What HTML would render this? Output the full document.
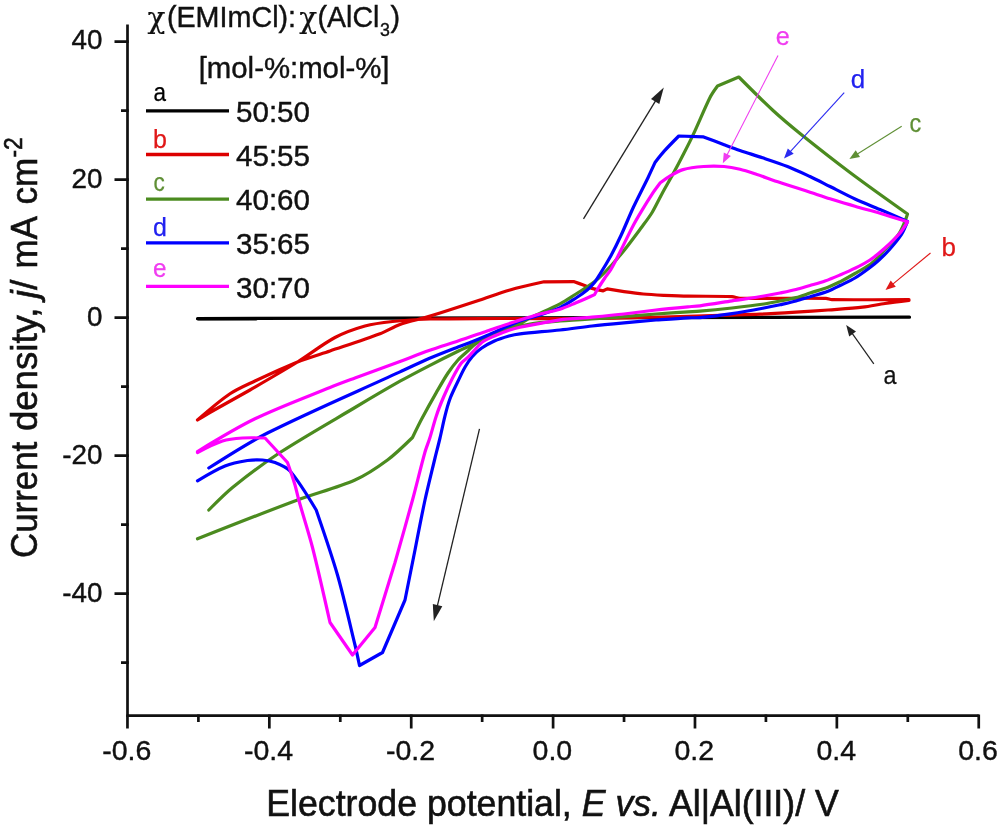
<!DOCTYPE html>
<html lang="en"><head><meta charset="utf-8">
<title>Cyclic voltammograms of EMImCl:AlCl3 melts</title>
<style>
html,body{margin:0;padding:0;background:#fff;}
body{width:1000px;height:826px;overflow:hidden;}
svg{display:block;filter:blur(0.55px);}
text{font-family:"Liberation Sans",sans-serif;fill:#111;stroke:#111;stroke-width:0.4px;}
#xtitle,#ytitle text{stroke-width:0.6px;}
.sym{font-family:"DejaVu Serif","Liberation Serif",serif;stroke-width:0.2px;}
.it{font-style:italic;}
.crv{fill:none;stroke-width:3.2;stroke-linejoin:round;stroke-linecap:round;}
.ax{stroke:#111;stroke-width:2.7;fill:none;stroke-linecap:butt;}
.ar{stroke-width:1.2;fill:none;}
</style></head><body>
<svg width="1000" height="826" viewBox="0 0 1000 826">
<rect x="0" y="0" width="1000" height="826" fill="#ffffff"/>
<g id="curves">
<polyline class="crv" stroke="#000000" stroke-width="4.1" points="197.5,318.7 255.0,318.4 909.5,317.2"/>
<polyline class="crv" stroke="#000000" stroke-width="5.8" points="198.5,319.0 256.0,319.0"/>
<path class="crv" stroke="#dc0000" stroke-width="2.6" d="M909.0 299.6 C909.0 299.6 855.1 299.9 832.0 299.6 C830.2 299.6 827.8 298.4 826.0 298.4 C811.5 298.1 792.1 298.3 777.5 298.3 C766.3 298.3 751.2 298.7 740.0 298.3 C737.5 298.2 734.5 296.7 732.0 296.6 C718.8 296.0 701.2 296.4 688.0 296.1 C680.8 296.0 671.2 295.6 664.0 295.3 C657.8 295.0 649.4 294.6 643.2 294.0 C637.4 293.5 624.0 291.6 624.0 291.6 L607.2 288.9 L603.2 290.8 C603.2 290.8 595.3 289.4 592.0 288.4 C589.5 287.7 586.4 286.1 584.0 285.2 C580.9 284.1 573.6 281.6 573.6 281.6 L544.0 281.8 C544.0 281.8 520.1 287.1 510.0 290.0 C500.9 292.6 489.0 297.0 480.0 300.0 C468.0 303.9 452.0 309.2 440.0 313.0 C435.5 314.4 429.5 316.2 425.0 317.5 C417.5 319.7 407.3 321.9 400.0 324.5 C393.8 326.7 386.2 331.4 380.0 333.8 C365.2 339.4 345.0 345.9 330.0 351.0 C320.3 354.3 307.1 358.2 297.5 362.0 C284.5 367.2 267.6 375.1 255.0 381.0 C247.4 384.6 237.0 389.0 230.0 393.8 C219.6 400.8 197.5 420.0 197.5 420.0 C197.5 420.0 207.9 413.6 212.5 411.0 C223.7 404.6 238.8 396.4 250.0 390.0 C264.3 381.7 283.4 370.7 297.5 362.0 C308.9 354.9 323.1 343.8 335.0 337.5 C343.5 333.0 355.7 328.6 365.0 326.0 C373.1 323.8 384.2 322.4 392.5 321.5 C403.7 320.3 418.7 319.3 430.0 319.0 C451.0 318.4 479.0 318.6 500.0 318.5 C524.0 318.4 556.0 318.7 580.0 318.5 C598.0 318.4 622.0 317.8 640.0 317.5 C654.4 317.2 673.6 316.8 688.0 316.4 C697.6 316.1 710.4 315.6 720.0 315.3 C732.0 314.9 748.0 314.7 760.0 314.2 C770.8 313.8 785.2 312.9 796.0 312.2 C805.6 311.6 818.4 310.7 828.0 310.0 C838.4 309.2 852.2 308.4 862.5 307.2 C869.3 306.5 878.2 304.5 885.0 303.5 C892.2 302.4 909.0 300.4 909.0 300.4"/>
<path class="crv" stroke="#4b8b1f" d="M208.8 510.0 C208.8 510.0 224.9 493.7 232.5 487.5 C246.3 476.4 265.2 462.2 280.0 452.5 C302.0 438.2 332.4 420.9 355.0 407.5 C368.4 399.5 386.4 388.9 400.0 381.2 C408.6 376.4 420.3 370.3 429.0 365.8 C437.7 361.3 449.2 355.5 458.0 351.2 C463.2 348.7 470.3 345.7 475.5 343.2 C479.0 341.5 483.6 339.0 487.2 337.4 C491.5 335.5 497.4 333.2 501.7 331.4 C507.2 329.1 514.6 326.1 520.0 323.5 C523.1 322.0 526.9 319.5 530.0 318.0 C538.9 313.6 551.2 308.4 560.0 303.8 C565.0 301.2 571.2 297.0 576.0 294.0 C580.8 290.9 587.4 287.0 592.0 283.6 C595.6 281.0 600.1 277.2 603.2 274.0 C608.9 268.3 616.1 260.2 621.2 254.0 C627.7 246.1 635.7 235.2 641.8 227.0 C645.0 222.7 649.3 217.1 652.1 212.5 C655.5 206.8 659.2 198.8 662.4 193.0 C665.4 187.4 669.7 180.1 672.7 174.5 C675.9 168.7 680.0 160.9 683.0 155.0 C686.2 148.9 690.4 140.7 693.3 134.4 C698.5 123.4 704.6 108.4 710.0 97.5 C711.8 93.8 717.5 86.0 717.5 86.0 L738.8 77.0 C738.8 77.0 762.1 100.4 772.5 110.0 C780.5 117.4 791.6 126.7 800.0 133.5 C814.8 145.4 834.8 161.1 850.0 172.5 C867.0 185.3 907.5 214.0 907.5 214.0 C907.5 214.0 905.6 220.0 904.5 222.5 C902.9 226.2 900.9 231.2 898.5 234.5 C895.0 239.4 889.1 245.0 885.0 249.5 C882.8 252.0 879.9 255.4 877.5 257.8 C875.4 259.9 872.5 262.8 870.0 264.5 C865.7 267.5 859.5 270.9 855.0 273.5 C850.5 276.1 844.6 279.4 840.0 281.8 C836.5 283.5 831.7 285.8 828.0 287.2 C822.7 289.2 815.4 291.2 810.0 293.0 C805.8 294.4 800.3 296.5 796.0 297.6 C791.3 298.9 784.8 300.0 780.0 301.0 C775.2 302.0 768.8 303.3 764.0 304.0 C754.4 305.4 741.6 306.9 732.0 308.0 C722.4 309.1 709.6 310.4 700.0 311.2 C696.4 311.5 691.6 311.6 688.0 311.8 C678.4 312.4 665.6 313.3 656.0 314.0 C644.0 314.9 628.0 316.4 616.0 317.3 C599.2 318.5 576.8 319.7 560.0 321.0 C551.0 321.7 538.9 322.4 530.0 324.0 C521.8 325.4 511.0 328.5 503.0 331.0 C498.1 332.6 491.8 335.4 487.2 337.6 C483.6 339.3 478.8 341.7 475.5 344.0 C473.1 345.6 470.4 348.5 468.3 350.5 C465.2 353.3 460.8 356.9 458.0 360.0 C454.7 363.7 450.7 368.9 448.0 373.0 C444.2 378.7 439.7 386.7 436.3 392.6 C431.8 400.4 426.0 410.9 421.8 418.8 C418.9 424.3 412.5 437.5 412.5 437.5 C412.5 437.5 395.6 454.0 387.5 460.0 C378.3 466.8 365.5 475.4 355.0 480.0 C338.3 487.4 314.6 493.6 297.5 500.0 C267.4 511.2 197.5 538.8 197.5 538.8"/>
<path class="crv" stroke="#0000ff" d="M208.8 468.0 C208.8 468.0 249.2 442.2 267.5 433.0 C306.6 413.3 360.3 390.2 400.0 371.9 C408.7 367.9 420.2 362.3 429.0 358.5 C437.6 354.8 449.3 350.3 458.0 346.9 C462.4 345.2 468.3 343.2 472.6 341.5 C477.0 339.8 482.7 337.4 487.0 335.5 C496.9 331.2 509.9 324.9 520.0 321.0 C525.8 318.7 534.1 317.0 540.0 315.0 C546.1 313.0 554.2 310.3 560.0 307.6 C565.1 305.2 571.3 301.0 576.0 298.0 C579.5 295.8 584.0 292.6 587.2 290.0 C589.3 288.3 591.9 285.7 593.6 283.6 C595.8 280.9 598.2 276.9 600.0 274.0 C603.4 268.6 607.8 261.3 610.9 255.7 C614.2 249.6 618.3 241.3 621.2 235.0 C625.1 226.7 629.6 215.3 633.5 207.0 C637.7 198.1 643.7 186.5 648.0 177.7 C650.2 173.1 655.2 162.2 655.2 162.2 C655.2 162.2 661.5 154.1 664.4 150.9 C668.6 146.3 678.8 136.0 678.8 136.0 L703.6 136.9 C703.6 136.9 717.9 142.4 724.1 144.7 C728.9 146.5 735.2 148.9 740.0 150.5 C746.7 152.8 755.8 155.5 762.5 157.8 C770.0 160.3 780.1 163.6 787.5 166.5 C794.4 169.2 803.3 173.4 810.0 176.5 C816.1 179.4 824.0 183.5 830.0 186.5 C837.5 190.2 847.4 195.5 855.0 199.0 C862.4 202.4 872.5 206.3 880.0 209.5 C888.3 213.0 907.5 221.5 907.5 221.5 C907.5 221.5 903.8 230.9 901.5 234.5 C898.4 239.3 893.3 245.2 889.5 249.5 C886.6 252.8 882.3 257.0 879.0 260.0 C876.4 262.4 872.8 265.4 870.0 267.5 C865.6 270.8 859.7 275.2 855.0 278.0 C850.7 280.6 844.5 283.3 840.0 285.5 C836.4 287.3 831.7 289.8 828.0 291.2 C822.7 293.2 815.4 295.1 810.0 296.8 C805.8 298.0 800.2 299.9 796.0 301.0 C791.2 302.3 784.8 303.7 780.0 304.8 C775.2 305.8 768.8 307.1 764.0 308.0 C754.4 309.8 741.6 312.2 732.0 313.6 C722.4 315.0 709.6 316.7 700.0 317.6 C696.4 317.9 691.6 317.6 688.0 317.8 C678.4 318.3 665.6 319.3 656.0 320.0 C646.4 320.8 633.6 321.9 624.0 322.8 C614.4 323.7 601.6 324.9 592.0 326.0 C582.4 327.1 569.6 329.0 560.0 330.0 C548.0 331.3 532.0 332.4 520.0 333.8 C516.7 334.2 512.2 335.1 509.0 336.0 C504.5 337.3 498.6 339.1 494.4 341.0 C490.3 342.8 485.1 345.7 481.4 348.3 C478.5 350.3 475.0 353.6 472.6 356.3 C470.1 359.1 467.3 363.3 465.4 366.5 C462.9 370.7 460.2 376.6 458.1 381.0 C455.6 386.2 452.1 393.1 450.1 398.5 C448.2 403.6 446.3 410.6 445.0 415.9 C443.3 422.5 441.6 431.4 440.0 438.0 C438.6 444.0 436.5 452.0 435.0 458.0 C432.0 470.6 427.8 487.3 425.0 500.0 C421.8 514.9 415.0 550.0 415.0 550.0 L405.0 600.0 L382.5 652.5 L359.5 665.5 C359.5 665.5 356.5 651.1 355.0 645.0 C349.9 624.0 343.5 595.8 337.5 575.0 C331.8 555.3 316.2 510.0 316.2 510.0 C316.2 510.0 299.2 481.6 290.0 471.0 C286.6 467.1 279.8 464.4 275.0 462.5 C271.4 461.1 266.3 460.3 262.5 460.0 C258.0 459.7 251.9 459.8 247.5 460.5 C240.6 461.6 231.4 463.4 225.0 466.0 C216.3 469.5 197.5 480.8 197.5 480.8"/>
<path class="crv" stroke="#ff00ff" d="M197.5 451.5 C197.5 451.5 237.1 427.4 255.0 418.8 C276.9 408.1 307.4 396.7 330.0 387.5 C337.4 384.5 347.5 380.8 355.0 378.0 C368.5 373.0 386.5 366.4 400.0 361.4 C408.7 358.2 420.2 353.6 429.0 350.5 C437.6 347.5 449.3 343.9 458.0 341.0 C466.8 338.1 478.4 334.0 487.2 331.0 C497.0 327.7 510.1 323.2 520.0 320.0 C526.0 318.1 534.0 315.6 540.0 314.0 C546.0 312.4 554.1 311.0 560.0 309.2 C564.9 307.7 571.2 304.8 576.0 302.8 C579.4 301.4 583.9 299.5 587.2 298.0 C589.4 297.0 594.6 294.6 594.6 294.6 C594.6 294.6 596.6 290.8 597.6 289.2 C599.7 285.8 602.6 281.3 604.8 278.0 C606.6 275.4 609.3 272.2 610.9 269.5 C614.3 263.7 618.2 255.7 621.2 249.7 C624.9 242.3 629.6 232.3 633.5 225.0 C635.8 220.6 639.2 214.9 641.8 210.6 C644.8 205.6 648.9 199.0 652.1 194.1 C654.4 190.6 660.3 182.8 660.3 182.8 C660.3 182.8 667.3 177.5 670.6 175.6 C674.2 173.5 679.0 170.7 683.0 169.6 C689.0 167.9 697.4 167.0 703.6 166.5 C709.7 166.0 718.0 166.0 724.1 166.5 C728.9 166.9 735.3 168.1 740.0 169.2 C744.6 170.3 750.5 172.3 755.0 173.8 C762.5 176.3 772.5 180.0 780.0 182.5 C787.5 185.0 797.5 188.1 805.0 190.5 C812.5 192.9 822.5 196.4 830.0 198.8 C837.5 201.1 847.5 204.1 855.0 206.2 C862.5 208.4 872.5 211.0 880.0 213.2 C888.3 215.7 907.5 221.8 907.5 221.8 C907.5 221.8 902.6 229.9 900.0 233.0 C895.9 237.8 889.7 243.7 885.0 248.0 C880.7 251.9 874.8 256.8 870.0 260.0 C865.7 262.9 859.6 266.0 855.0 268.2 C850.6 270.5 844.5 273.1 840.0 275.0 C835.5 276.9 829.6 279.4 825.0 281.0 C820.6 282.6 814.5 284.2 810.0 285.5 C805.8 286.7 800.2 288.4 796.0 289.5 C791.2 290.7 784.8 292.0 780.0 293.0 C775.2 294.0 768.8 295.2 764.0 296.0 C754.4 297.6 741.6 299.3 732.0 300.8 C722.4 302.3 709.6 304.5 700.0 305.8 C696.4 306.3 691.6 306.5 688.0 306.8 C678.4 307.7 665.6 308.9 656.0 310.0 C646.4 311.1 633.6 312.9 624.0 314.0 C614.4 315.1 601.6 316.3 592.0 317.2 C582.4 318.1 569.5 318.5 560.0 319.8 C547.9 321.5 532.0 324.9 520.0 327.3 C516.7 328.0 512.2 329.1 509.0 330.2 C504.5 331.7 498.7 334.1 494.4 336.0 C490.8 337.6 486.0 339.6 482.8 341.8 C480.3 343.5 477.6 346.8 475.5 349.0 C473.3 351.3 470.6 354.7 468.3 357.0 C466.2 359.1 462.8 361.1 461.0 363.5 C457.9 367.7 454.7 373.9 452.3 378.5 C449.5 383.9 446.0 391.4 443.6 397.0 C441.2 402.6 438.2 410.1 436.3 415.9 C434.1 422.4 431.9 431.4 429.8 438.0 C428.5 442.2 426.2 447.7 425.0 452.0 C421.0 466.3 416.4 485.6 412.5 500.0 C407.4 518.8 395.0 562.5 395.0 562.5 L375.0 627.5 L352.5 655.0 L330.0 622.5 C330.0 622.5 318.2 569.9 312.5 547.5 C308.8 533.1 302.7 514.3 298.8 500.0 C297.5 495.5 296.3 489.4 295.0 485.0 C293.0 478.2 287.5 462.5 287.5 462.5 L265.0 438.0 C265.0 438.0 249.2 437.5 242.5 438.0 C236.4 438.4 228.3 439.1 222.5 441.0 C214.6 443.5 197.5 452.5 197.5 452.5"/>
</g>
<g id="axes">
<path class="ax" d="M127.50 24.40 V715.60 H978.75"/>
<path class="ax" d="M127.46 714.40 v14.2 M198.40 714.40 v7.7 M269.34 714.40 v14.2 M340.28 714.40 v7.7 M411.22 714.40 v14.2 M482.16 714.40 v7.7 M553.10 714.40 v14.2 M624.04 714.40 v7.7 M694.98 714.40 v14.2 M765.92 714.40 v7.7 M836.86 714.40 v14.2 M907.80 714.40 v7.7 M978.74 714.40 v14.2"/>
<path class="ax" d="M128.70 662.60 h-7.7 M128.70 593.60 h-14.2 M128.70 524.60 h-7.7 M128.70 455.60 h-14.2 M128.70 386.60 h-7.7 M128.70 317.60 h-14.2 M128.70 248.60 h-7.7 M128.70 179.60 h-14.2 M128.70 110.60 h-7.7 M128.70 41.60 h-14.2"/>
</g>
<g id="ticklabels" font-size="27.8">
<text x="126.8" y="760.4" font-size="28.5" text-anchor="middle">-0.6</text>
<text x="268.6" y="760.4" font-size="28.5" text-anchor="middle">-0.4</text>
<text x="410.5" y="760.4" font-size="28.5" text-anchor="middle">-0.2</text>
<text x="552.4" y="760.4" font-size="28.5" text-anchor="middle">0.0</text>
<text x="694.3" y="760.4" font-size="28.5" text-anchor="middle">0.2</text>
<text x="836.2" y="760.4" font-size="28.5" text-anchor="middle">0.4</text>
<text x="978.0" y="760.4" font-size="28.5" text-anchor="middle">0.6</text>
<text x="102.5" y="602.0" text-anchor="end">-40</text>
<text x="102.5" y="464.0" text-anchor="end">-20</text>
<text x="102.5" y="326.0" text-anchor="end">0</text>
<text x="102.5" y="188.0" text-anchor="end">20</text>
<text x="102.5" y="48.8" text-anchor="end">40</text>
</g>
<text id="xtitle" x="266.3" y="816" font-size="36" textLength="572.5" lengthAdjust="spacingAndGlyphs">Electrode potential, <tspan class="it">E vs.</tspan> Al|Al(III)/ V</text>
<g id="ytitle" transform="translate(37.3 558) rotate(-90)" font-size="36">
<text x="0.0" y="0" textLength="116.2" lengthAdjust="spacingAndGlyphs">Current</text>
<text x="126.9" y="0" textLength="123.5" lengthAdjust="spacingAndGlyphs">density,</text>
<text x="259.6" y="0" textLength="18.8" lengthAdjust="spacingAndGlyphs"><tspan class="it">j</tspan>/</text>
<text x="289.4" y="0" textLength="52.4" lengthAdjust="spacingAndGlyphs">mA</text>
<text x="353.4" y="0" textLength="46.8" lengthAdjust="spacingAndGlyphs">cm</text>
<text x="400.4" y="-15.3" font-size="25.5" textLength="20.3" lengthAdjust="spacingAndGlyphs">-2</text>
</g>
<g id="legend" font-size="28.8">
<text class="sym" x="147.4" y="27.6" font-size="29.5">χ</text>
<text x="166.9" y="26.6" textLength="129.2" lengthAdjust="spacingAndGlyphs">(EMImCl):</text>
<text class="sym" x="299.2" y="27.6" font-size="29.5">χ</text>
<text x="317.6" y="26.6" textLength="61.8" lengthAdjust="spacingAndGlyphs">(AlCl</text>
<text x="380" y="36.3" font-size="17.8">3</text>
<text x="390.6" y="26.6">)</text>
<text x="198.7" y="78.4" textLength="190.8" lengthAdjust="spacingAndGlyphs">[mol-%:mol-%]</text>
<line x1="146" y1="110.8" x2="229" y2="110.8" stroke="#000000" stroke-width="3.3"/>
<text x="236" y="122.0" textLength="74" lengthAdjust="spacingAndGlyphs">50:50</text>
<line x1="146" y1="154.5" x2="229" y2="154.5" stroke="#dc0000" stroke-width="3.3"/>
<text x="236" y="165.7" textLength="74" lengthAdjust="spacingAndGlyphs">45:55</text>
<line x1="146" y1="199.2" x2="229" y2="199.2" stroke="#4b8b1f" stroke-width="3.3"/>
<text x="236" y="210.4" textLength="74" lengthAdjust="spacingAndGlyphs">40:60</text>
<line x1="146" y1="242.9" x2="229" y2="242.9" stroke="#0000ff" stroke-width="3.3"/>
<text x="236" y="254.1" textLength="74" lengthAdjust="spacingAndGlyphs">35:65</text>
<line x1="146" y1="286.3" x2="229" y2="286.3" stroke="#ff00ff" stroke-width="3.3"/>
<text x="236" y="297.5" textLength="74" lengthAdjust="spacingAndGlyphs">30:70</text>
</g>
<g id="annotations" font-size="26">
<line x1="583.5" y1="218.8" x2="655.7" y2="100.7" stroke="#222222" stroke-width="1.3"/>
<polygon points="663.8,87.5 659.3,104.1 651.0,99.0" fill="#222222"/>
<line x1="479.5" y1="428.8" x2="437.3" y2="606.2" stroke="#222222" stroke-width="1.3"/>
<polygon points="433.8,621.2 432.8,604.1 442.3,606.3" fill="#222222"/>
<line x1="778.0" y1="55.5" x2="726.9" y2="155.2" stroke="#f03cf0" stroke-width="1.1"/>
<polygon points="722.8,163.2 723.8,152.5 730.9,156.1" fill="#f03cf0"/>
<line x1="844.2" y1="92.7" x2="790.1" y2="151.9" stroke="#2a2af0" stroke-width="1.1"/>
<polygon points="784.0,158.5 787.8,148.4 793.7,153.8" fill="#2a2af0"/>
<line x1="901.7" y1="126.2" x2="857.0" y2="154.2" stroke="#5f8f35" stroke-width="1.1"/>
<polygon points="849.4,159.0 855.7,150.3 860.0,157.1" fill="#5f8f35"/>
<line x1="930.5" y1="253.0" x2="892.5" y2="284.3" stroke="#e01818" stroke-width="1.1"/>
<polygon points="885.5,290.0 890.7,280.6 895.8,286.7" fill="#e01818"/>
<line x1="873.8" y1="363.8" x2="852.0" y2="333.2" stroke="#222222" stroke-width="1.2"/>
<polygon points="846.2,325.0 856.0,331.5 849.2,336.4" fill="#222222"/>
<text x="775.8" y="45.3" font-size="26.0" textLength="14.02" lengthAdjust="spacingAndGlyphs" style="fill:#f03cf0;stroke:#f03cf0;stroke-width:0.25px">e</text>
<text x="850.8" y="88.0" font-size="26.0" style="fill:#2222f0;stroke:#2222f0;stroke-width:0.25px">d</text>
<text x="909.4" y="131.6" font-size="26.0" textLength="11.70" lengthAdjust="spacingAndGlyphs" style="fill:#5f8f35;stroke:#5f8f35;stroke-width:0.25px">c</text>
<text x="941.5" y="255.8" font-size="26.0" style="fill:#e01818;stroke:#e01818;stroke-width:0.25px">b</text>
<text x="883.6" y="384.0" font-size="26.0" textLength="13.01" lengthAdjust="spacingAndGlyphs" style="fill:#111111;stroke:#111111;stroke-width:0.25px">a</text>
<text x="153.5" y="100.9" font-size="25.0" textLength="12.51" lengthAdjust="spacingAndGlyphs" style="fill:#000000;stroke:#000000;stroke-width:0.25px">a</text>
<text x="153.0" y="148.4" font-size="25.0" style="fill:#e01818;stroke:#e01818;stroke-width:0.25px">b</text>
<text x="153.5" y="191.0" font-size="25.0" textLength="11.25" lengthAdjust="spacingAndGlyphs" style="fill:#5f8f35;stroke:#5f8f35;stroke-width:0.25px">c</text>
<text x="153.0" y="236.4" font-size="25.0" style="fill:#2222f0;stroke:#2222f0;stroke-width:0.25px">d</text>
<text x="153.0" y="277.2" font-size="25.0" textLength="13.48" lengthAdjust="spacingAndGlyphs" style="fill:#f03cf0;stroke:#f03cf0;stroke-width:0.25px">e</text>
</g>
</svg>
</body></html>
